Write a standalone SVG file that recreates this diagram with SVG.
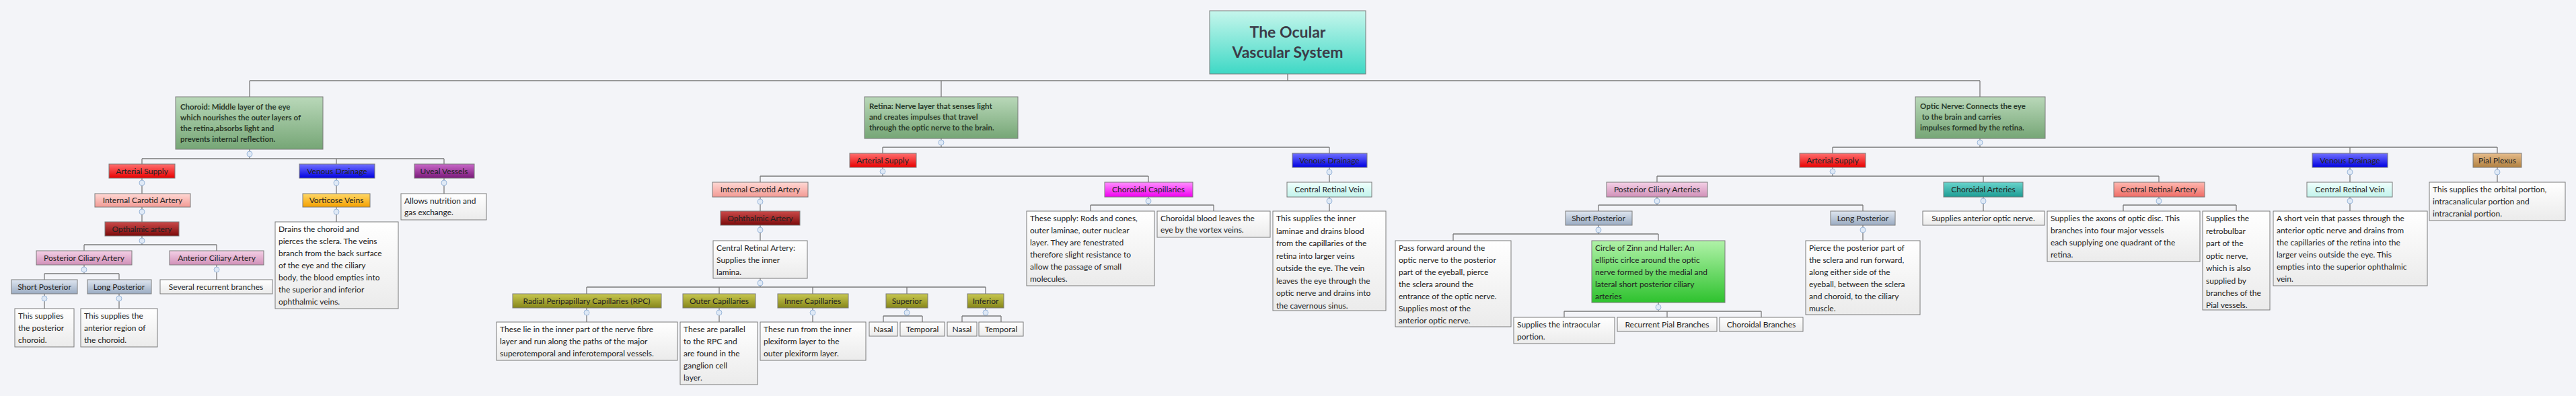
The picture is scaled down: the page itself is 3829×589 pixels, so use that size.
<svg xmlns="http://www.w3.org/2000/svg" width="3829" height="589" viewBox="0 0 3829 589">
<style>
text{font-family:Lato,"Open Sans","Liberation Sans",sans-serif;font-size:12px;fill:#222}
.c{text-anchor:middle}
.b{font-weight:bold;font-size:11.5px;fill:#2a3a2a}
.r{font-weight:bold;font-size:23px;fill:#3c3c48;text-anchor:middle}
rect{stroke:#7a7a7a;stroke-width:1}
rect.bg{stroke:none}
.con path{fill:none;stroke:#7a7a7a;stroke-width:1.3}
.con circle{fill:#dfe9f6;stroke:#9cb8da;stroke-width:1}
</style>
<defs>
<linearGradient id="gRoot" x1="0" y1="0" x2="0" y2="1"><stop offset="0" stop-color="#c6f6ec"/><stop offset="1" stop-color="#3ed8c5"/></linearGradient>
<linearGradient id="gMain" x1="0" y1="0" x2="0" y2="1"><stop offset="0" stop-color="#b9d8b9"/><stop offset="1" stop-color="#76a676"/></linearGradient>
<linearGradient id="gRed" x1="0" y1="0" x2="0" y2="1"><stop offset="0" stop-color="#ff7070"/><stop offset="1" stop-color="#e80000"/></linearGradient>
<linearGradient id="gBlue" x1="0" y1="0" x2="0" y2="1"><stop offset="0" stop-color="#7070ff"/><stop offset="1" stop-color="#0000e0"/></linearGradient>
<linearGradient id="gPurp" x1="0" y1="0" x2="0" y2="1"><stop offset="0" stop-color="#c868c8"/><stop offset="1" stop-color="#7a1a7a"/></linearGradient>
<linearGradient id="gIca" x1="0" y1="0" x2="0" y2="1"><stop offset="0" stop-color="#ffd8d4"/><stop offset="1" stop-color="#f29a94"/></linearGradient>
<linearGradient id="gOph" x1="0" y1="0" x2="0" y2="1"><stop offset="0" stop-color="#cc4a4a"/><stop offset="1" stop-color="#7a0a0a"/></linearGradient>
<linearGradient id="gPink" x1="0" y1="0" x2="0" y2="1"><stop offset="0" stop-color="#f4d0e6"/><stop offset="1" stop-color="#d090b8"/></linearGradient>
<linearGradient id="gSteel" x1="0" y1="0" x2="0" y2="1"><stop offset="0" stop-color="#dfe6f0"/><stop offset="1" stop-color="#9aabc2"/></linearGradient>
<linearGradient id="gOrange" x1="0" y1="0" x2="0" y2="1"><stop offset="0" stop-color="#ffd868"/><stop offset="1" stop-color="#f4a000"/></linearGradient>
<linearGradient id="gOlive" x1="0" y1="0" x2="0" y2="1"><stop offset="0" stop-color="#c8c850"/><stop offset="1" stop-color="#86861a"/></linearGradient>
<linearGradient id="gMag" x1="0" y1="0" x2="0" y2="1"><stop offset="0" stop-color="#ff90ff"/><stop offset="1" stop-color="#f000f0"/></linearGradient>
<linearGradient id="gCyan" x1="0" y1="0" x2="0" y2="1"><stop offset="0" stop-color="#effffc"/><stop offset="1" stop-color="#c2f3ec"/></linearGradient>
<linearGradient id="gTeal" x1="0" y1="0" x2="0" y2="1"><stop offset="0" stop-color="#6ad4cc"/><stop offset="1" stop-color="#1c9c94"/></linearGradient>
<linearGradient id="gSalmon" x1="0" y1="0" x2="0" y2="1"><stop offset="0" stop-color="#ffb8b0"/><stop offset="1" stop-color="#ee6c66"/></linearGradient>
<linearGradient id="gTan" x1="0" y1="0" x2="0" y2="1"><stop offset="0" stop-color="#e6bc8c"/><stop offset="1" stop-color="#b08040"/></linearGradient>
<linearGradient id="gZinn" x1="0" y1="0" x2="0" y2="1"><stop offset="0" stop-color="#b0f2a8"/><stop offset="1" stop-color="#2ec22e"/></linearGradient>
<linearGradient id="gWhite" x1="0" y1="0" x2="0" y2="1"><stop offset="0" stop-color="#ffffff"/><stop offset="1" stop-color="#ebebeb"/></linearGradient>
</defs>
<rect class="bg" x="0" y="0" width="3829" height="589" fill="#f3f4f8"/>

<g class="con" id="connectors">
<path d="M1914 110V120M371 120H2943M371 120V144M1399 120V144M2943 120V144"/>
<path d="M371 222V236M211 236H660M211 236V244M500 236V244M660 236V244"/>
<path d="M211 265V288M211 308V330M211 351V364M125 364H322M125 364V373M322 364V373"/>
<path d="M125 394V407M66 407H177M66 407V416M177 407V416M322 394V416M66 437V459M177 437V459"/>
<path d="M500 265V288M500 308V330M660 265V288"/>
<path d="M1399 206V219M1312 219H1976M1312 219V228M1976 219V228"/>
<path d="M1312 249V262M1130 262H1707M1130 262V271M1707 262V271M1130 293V314M1130 335V358"/>
<path d="M1130 414V427M872 427H1465M872 427V437M1069 427V437M1208 427V437M1348 427V437M1465 427V437"/>
<path d="M872 458V479M1069 458V479M1208 458V479M1348 458V470M1313 470H1371M1313 470V479M1371 470V479M1465 458V470M1430 470H1488M1430 470V479M1488 470V479"/>
<path d="M1707 293V305M1621 305H1804M1621 305V314M1804 305V314M1976 249V271M1976 293V314"/>
<path d="M2943 206V219M2724 219H3712M2724 219V228M3493 219V228M3712 219V228"/>
<path d="M2724 249V262M2463 262H3209M2463 262V271M2948 262V271M3209 262V271"/>
<path d="M2463 293V305M2376 305H2769M2376 305V314M2769 305V314M2376 335V348M2160 348H2465M2160 348V358M2465 348V358"/>
<path d="M2465 450V463M2325 463H2618M2325 463V472M2478 463V472M2618 463V472M2769 335V358"/>
<path d="M2948 293V314M3209 293V305M3156 305H3324M3156 305V314M3324 305V314M3493 249V271M3493 293V314M3712 249V271"/>
<circle cx="371" cy="229" r="4"/><circle cx="211" cy="272" r="4"/><circle cx="211" cy="315" r="4"/><circle cx="211" cy="358" r="4"/>
<circle cx="125" cy="401" r="4"/><circle cx="322" cy="401" r="4"/><circle cx="66" cy="444" r="4"/><circle cx="177" cy="444" r="4"/>
<circle cx="500" cy="272" r="4"/><circle cx="500" cy="315" r="4"/><circle cx="660" cy="272" r="4"/>
<circle cx="1399" cy="212" r="4"/><circle cx="1312" cy="255" r="4"/><circle cx="1130" cy="300" r="4"/><circle cx="1130" cy="342" r="4"/><circle cx="1130" cy="421" r="4"/>
<circle cx="872" cy="465" r="4"/><circle cx="1069" cy="465" r="4"/><circle cx="1208" cy="465" r="4"/><circle cx="1348" cy="465" r="4"/><circle cx="1465" cy="465" r="4"/>
<circle cx="1707" cy="299" r="4"/><circle cx="1976" cy="256" r="4"/><circle cx="1976" cy="299" r="4"/>
<circle cx="2943" cy="212" r="4"/><circle cx="2724" cy="255" r="4"/><circle cx="2463" cy="299" r="4"/><circle cx="2376" cy="342" r="4"/><circle cx="2465" cy="457" r="4"/><circle cx="2769" cy="342" r="4"/>
<circle cx="2948" cy="299" r="4"/><circle cx="3209" cy="299" r="4"/><circle cx="3493" cy="256" r="4"/><circle cx="3493" cy="299" r="4"/><circle cx="3712" cy="256" r="4"/>
</g>

<g id="root"><rect x="1798" y="16" width="232" height="94" fill="url(#gRoot)"/><text class="r" x="1914" y="56">The Ocular</text><text class="r" x="1914" y="86">Vascular System</text></g>

<g id="choroid"><rect x="261" y="144" width="219" height="78" fill="url(#gMain)"/><text class="b"><tspan x="268" y="163">Choroid: Middle layer of the eye</tspan><tspan x="268" y="179">which nourishes the outer layers of</tspan><tspan x="268" y="195">the retina,absorbs light and</tspan><tspan x="268" y="211">prevents internal reflection.</tspan></text></g>
<g id="ch-art"><rect x="162" y="244" width="98" height="21" fill="url(#gRed)"/><text class="c" x="211" y="259">Arterial Supply</text></g>
<g id="ch-ven"><rect x="445" y="244" width="112" height="21" fill="url(#gBlue)"/><text class="c" x="501" y="259">Venous Drainage</text></g>
<g id="ch-uveal"><rect x="616" y="244" width="89" height="21" fill="url(#gPurp)"/><text class="c" x="660" y="259">Uveal Vessels</text></g>
<g id="ch-ica"><rect x="141" y="288" width="142" height="20" fill="url(#gIca)"/><text class="c" x="212" y="302">Internal Carotid Artery</text></g>
<g id="ch-oph"><rect x="156" y="330" width="110" height="21" fill="url(#gOph)"/><text class="c" x="211" y="345">Opthalmic artery</text></g>
<g id="ch-pca"><rect x="54" y="373" width="142" height="21" fill="url(#gPink)"/><text class="c" x="125" y="388">Posterior Ciliary Artery</text></g>
<g id="ch-aca"><rect x="252" y="373" width="140" height="21" fill="url(#gPink)"/><text class="c" x="322" y="388">Anterior Ciliary Artery</text></g>
<g id="ch-short"><rect x="17" y="416" width="98" height="21" fill="url(#gSteel)"/><text class="c" x="66" y="431">Short Posterior</text></g>
<g id="ch-long"><rect x="130" y="416" width="95" height="21" fill="url(#gSteel)"/><text class="c" x="177" y="431">Long Posterior</text></g>
<g id="ch-recur"><rect x="238" y="416" width="167" height="21" fill="url(#gWhite)"/><text class="c" x="321" y="431">Several recurrent branches</text></g>
<g id="ch-short-t"><rect x="22" y="459" width="88" height="57" fill="url(#gWhite)"/><text><tspan x="27" y="474">This supplies</tspan><tspan x="27" y="492">the posterior</tspan><tspan x="27" y="510">choroid.</tspan></text></g>
<g id="ch-long-t"><rect x="120" y="459" width="114" height="57" fill="url(#gWhite)"/><text><tspan x="125" y="474">This supplies the</tspan><tspan x="125" y="492">anterior region of</tspan><tspan x="125" y="510">the choroid.</tspan></text></g>
<g id="ch-vort"><rect x="450" y="288" width="100" height="20" fill="url(#gOrange)"/><text class="c" x="500" y="302">Vorticose Veins</text></g>
<g id="ch-vort-t"><rect x="409" y="330" width="183" height="129" fill="url(#gWhite)"/><text><tspan x="414" y="345">Drains the choroid and</tspan><tspan x="414" y="363">pierces the sclera. The veins</tspan><tspan x="414" y="381">branch from the back surface</tspan><tspan x="414" y="399">of the eye and the ciliary</tspan><tspan x="414" y="417">body, the blood empties into</tspan><tspan x="414" y="435">the  superior and inferior</tspan><tspan x="414" y="453">ophthalmic veins.</tspan></text></g>
<g id="ch-uveal-t"><rect x="596" y="288" width="127" height="39" fill="url(#gWhite)"/><text><tspan x="601" y="303">Allows nutrition and</tspan><tspan x="601" y="320">gas exchange.</tspan></text></g>

<g id="retina"><rect x="1285" y="144" width="228" height="62" fill="url(#gMain)"/><text class="b"><tspan x="1292" y="162">Retina: Nerve layer that senses light</tspan><tspan x="1292" y="178">and creates impulses that travel</tspan><tspan x="1292" y="194">through the optic nerve to the brain.</tspan></text></g>
<g id="re-art"><rect x="1263" y="228" width="99" height="21" fill="url(#gRed)"/><text class="c" x="1312" y="243">Arterial Supply</text></g>
<g id="re-ven"><rect x="1921" y="228" width="111" height="21" fill="url(#gBlue)"/><text class="c" x="1976" y="243">Venous Drainage</text></g>
<g id="re-ica"><rect x="1059" y="271" width="142" height="22" fill="url(#gIca)"/><text class="c" x="1130" y="286">Internal Carotid Artery</text></g>
<g id="re-oph"><rect x="1071" y="314" width="118" height="21" fill="url(#gOph)"/><text class="c" x="1130" y="329">Ophthalmic Artery</text></g>
<g id="re-cra"><rect x="1060" y="358" width="140" height="56" fill="url(#gWhite)"/><text><tspan x="1065" y="373">Central Retinal Artery:</tspan><tspan x="1065" y="391">Supplies the inner</tspan><tspan x="1065" y="409">lamina.</tspan></text></g>
<g id="re-rpc"><rect x="762" y="437" width="221" height="21" fill="url(#gOlive)"/><text class="c" x="872" y="452">Radial Peripapillary Capillaries (RPC)</text></g>
<g id="re-outer"><rect x="1015" y="437" width="108" height="21" fill="url(#gOlive)"/><text class="c" x="1069" y="452">Outer Capillaries</text></g>
<g id="re-inner"><rect x="1156" y="437" width="105" height="21" fill="url(#gOlive)"/><text class="c" x="1208" y="452">Inner Capillaries</text></g>
<g id="re-sup"><rect x="1317" y="437" width="62" height="21" fill="url(#gOlive)"/><text class="c" x="1348" y="452">Superior</text></g>
<g id="re-inf"><rect x="1438" y="437" width="54" height="21" fill="url(#gOlive)"/><text class="c" x="1465" y="452">Inferior</text></g>
<g id="re-rpc-t"><rect x="738" y="479" width="269" height="57" fill="url(#gWhite)"/><text><tspan x="743" y="494">These lie in the inner part of the nerve fibre</tspan><tspan x="743" y="512">layer and run along the paths of the major</tspan><tspan x="743" y="530">superotemporal and inferotemporal vessels.</tspan></text></g>
<g id="re-outer-t"><rect x="1011" y="479" width="115" height="93" fill="url(#gWhite)"/><text><tspan x="1016" y="494">These are parallel</tspan><tspan x="1016" y="512">to the RPC and</tspan><tspan x="1016" y="530">are found in the</tspan><tspan x="1016" y="548">ganglion cell</tspan><tspan x="1016" y="566">layer.</tspan></text></g>
<g id="re-inner-t"><rect x="1130" y="479" width="157" height="57" fill="url(#gWhite)"/><text><tspan x="1135" y="494">These run from the inner</tspan><tspan x="1135" y="512">plexiform layer to the</tspan><tspan x="1135" y="530">outer plexiform layer.</tspan></text></g>
<g id="re-sup-n"><rect x="1292" y="479" width="42" height="21" fill="url(#gWhite)"/><text class="c" x="1313" y="494">Nasal</text></g>
<g id="re-sup-t"><rect x="1338" y="479" width="66" height="21" fill="url(#gWhite)"/><text class="c" x="1371" y="494">Temporal</text></g>
<g id="re-inf-n"><rect x="1408" y="479" width="44" height="21" fill="url(#gWhite)"/><text class="c" x="1430" y="494">Nasal</text></g>
<g id="re-inf-t"><rect x="1455" y="479" width="66" height="21" fill="url(#gWhite)"/><text class="c" x="1488" y="494">Temporal</text></g>
<g id="re-chcap"><rect x="1642" y="271" width="131" height="22" fill="url(#gMag)"/><text class="c" x="1707" y="286">Choroidal Capillaries</text></g>
<g id="re-chcap-t1"><rect x="1526" y="314" width="190" height="111" fill="url(#gWhite)"/><text><tspan x="1531" y="329">These supply: Rods and cones,</tspan><tspan x="1531" y="347">outer laminae, outer nuclear</tspan><tspan x="1531" y="365">layer. They are fenestrated</tspan><tspan x="1531" y="383">therefore slight resistance to</tspan><tspan x="1531" y="401">allow the passage of small</tspan><tspan x="1531" y="419">molecules.</tspan></text></g>
<g id="re-chcap-t2"><rect x="1720" y="314" width="168" height="39" fill="url(#gWhite)"/><text><tspan x="1725" y="329">Choroidal blood leaves the</tspan><tspan x="1725" y="346">eye by the vortex veins.</tspan></text></g>
<g id="re-crv"><rect x="1913" y="271" width="126" height="22" fill="url(#gCyan)"/><text class="c" x="1976" y="286">Central Retinal Vein</text></g>
<g id="re-crv-t"><rect x="1892" y="314" width="168" height="148" fill="url(#gWhite)"/><text><tspan x="1897" y="329">This supplies the inner</tspan><tspan x="1897" y="347.5">laminae and drains blood</tspan><tspan x="1897" y="366">from the capillaries of the</tspan><tspan x="1897" y="384.5">retina into larger veins</tspan><tspan x="1897" y="403">outside the eye. The vein</tspan><tspan x="1897" y="421.5">leaves the eye through the</tspan><tspan x="1897" y="440">optic nerve and drains into</tspan><tspan x="1897" y="458.5">the cavernous sinus.</tspan></text></g>

<g id="optic"><rect x="2847" y="144" width="193" height="62" fill="url(#gMain)"/><text class="b"><tspan x="2854" y="162">Optic Nerve: Connects the eye</tspan><tspan x="2854" y="178"> to the brain and carries</tspan><tspan x="2854" y="194">impulses formed by the retina.</tspan></text></g>
<g id="op-art"><rect x="2675" y="228" width="98" height="21" fill="url(#gRed)"/><text class="c" x="2724" y="243">Arterial Supply</text></g>
<g id="op-ven"><rect x="3437" y="228" width="112" height="21" fill="url(#gBlue)"/><text class="c" x="3493" y="243">Venous Drainage</text></g>
<g id="op-pial"><rect x="3676" y="228" width="72" height="21" fill="url(#gTan)"/><text class="c" x="3712" y="243">Pial Plexus</text></g>
<g id="op-pcas"><rect x="2388" y="271" width="150" height="22" fill="url(#gPink)"/><text class="c" x="2463" y="286">Posterior Ciliary Arteries</text></g>
<g id="op-short"><rect x="2327" y="314" width="99" height="21" fill="url(#gSteel)"/><text class="c" x="2376" y="329">Short Posterior</text></g>
<g id="op-long"><rect x="2721" y="314" width="96" height="21" fill="url(#gSteel)"/><text class="c" x="2769" y="329">Long Posterior</text></g>
<g id="op-pass"><rect x="2074" y="358" width="172" height="128" fill="url(#gWhite)"/><text><tspan x="2079" y="373">Pass forward around the</tspan><tspan x="2079" y="391">optic nerve to the posterior</tspan><tspan x="2079" y="409">part of the eyeball, pierce</tspan><tspan x="2079" y="427">the sclera around the</tspan><tspan x="2079" y="445">entrance of the optic nerve.</tspan><tspan x="2079" y="463">Supplies most of the</tspan><tspan x="2079" y="481">anterior optic nerve.</tspan></text></g>
<g id="op-zinn"><rect x="2366" y="358" width="198" height="92" fill="url(#gZinn)"/><text><tspan x="2371" y="373">Circle of Zinn and Haller: An</tspan><tspan x="2371" y="391">elliptic cirlce around the optic</tspan><tspan x="2371" y="409">nerve formed by the medial and</tspan><tspan x="2371" y="427">lateral short posterior ciliary</tspan><tspan x="2371" y="445">arteries</tspan></text></g>
<g id="op-intra"><rect x="2250" y="472" width="150" height="39" fill="url(#gWhite)"/><text><tspan x="2255" y="487">Supplies the intraocular</tspan><tspan x="2255" y="505">portion.</tspan></text></g>
<g id="op-recpial"><rect x="2404" y="472" width="148" height="21" fill="url(#gWhite)"/><text class="c" x="2478" y="487">Recurrent Pial Branches</text></g>
<g id="op-chbr"><rect x="2556" y="472" width="124" height="21" fill="url(#gWhite)"/><text class="c" x="2618" y="487">Choroidal Branches</text></g>
<g id="op-pierce"><rect x="2684" y="358" width="170" height="110" fill="url(#gWhite)"/><text><tspan x="2689" y="373">Pierce the posterior part of</tspan><tspan x="2689" y="391">the sclera and run forward,</tspan><tspan x="2689" y="409">along either side of the</tspan><tspan x="2689" y="427">eyeball, between the sclera</tspan><tspan x="2689" y="445">and choroid, to the ciliary</tspan><tspan x="2689" y="463">muscle.</tspan></text></g>
<g id="op-charts"><rect x="2889" y="271" width="118" height="22" fill="url(#gTeal)"/><text class="c" x="2948" y="286">Choroidal Arteries</text></g>
<g id="op-charts-t"><rect x="2858" y="314" width="181" height="21" fill="url(#gWhite)"/><text class="c" x="2948" y="329">Supplies anterior optic nerve.</text></g>
<g id="op-cra"><rect x="3142" y="271" width="135" height="22" fill="url(#gSalmon)"/><text class="c" x="3209" y="286">Central Retinal Artery</text></g>
<g id="op-cra-t1"><rect x="3043" y="314" width="227" height="75" fill="url(#gWhite)"/><text><tspan x="3048" y="329">Supplies the axons of optic disc. This</tspan><tspan x="3048" y="347">branches into four major vessels</tspan><tspan x="3048" y="365">each supplying one quadrant of the</tspan><tspan x="3048" y="383">retina.</tspan></text></g>
<g id="op-cra-t2"><rect x="3274" y="314" width="100" height="147" fill="url(#gWhite)"/><text><tspan x="3279" y="329">Supplies the</tspan><tspan x="3279" y="347.5">retrobulbar</tspan><tspan x="3279" y="366">part of the</tspan><tspan x="3279" y="384.5">optic nerve,</tspan><tspan x="3279" y="403">which is also</tspan><tspan x="3279" y="421.5">supplied by</tspan><tspan x="3279" y="440">branches of the</tspan><tspan x="3279" y="458">Pial vessels.</tspan></text></g>
<g id="op-crv"><rect x="3429" y="271" width="127" height="22" fill="url(#gCyan)"/><text class="c" x="3493" y="286">Central Retinal Vein</text></g>
<g id="op-crv-t"><rect x="3379" y="314" width="229" height="111" fill="url(#gWhite)"/><text><tspan x="3384" y="329">A short vein that passes through the</tspan><tspan x="3384" y="347">anterior optic nerve and drains from</tspan><tspan x="3384" y="365">the capillaries of the retina into the</tspan><tspan x="3384" y="383">larger veins outside the eye. This</tspan><tspan x="3384" y="401">empties into the superior ophthalmic</tspan><tspan x="3384" y="419">vein.</tspan></text></g>
<g id="op-pial-t"><rect x="3611" y="271" width="202" height="57" fill="url(#gWhite)"/><text><tspan x="3616" y="286">This supplies the orbital portion,</tspan><tspan x="3616" y="304">intracanalicular portion and</tspan><tspan x="3616" y="322">intracranial portion.</tspan></text></g>
</svg>
